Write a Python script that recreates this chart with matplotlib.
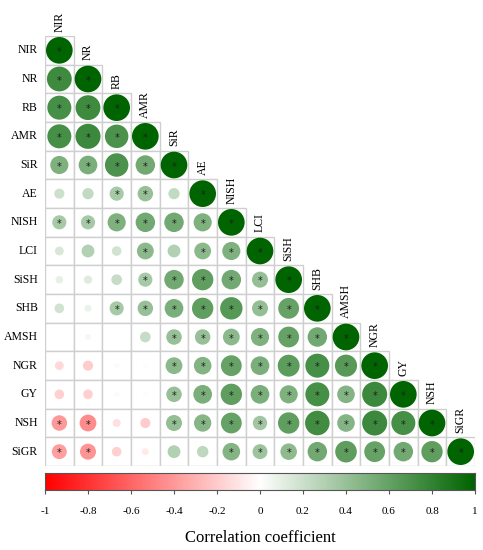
import numpy as np
import matplotlib
matplotlib.use("Agg")
from matplotlib import pyplot as plt
from matplotlib.colors import LinearSegmentedColormap
from matplotlib.patches import Circle, Rectangle

### data ###

names = ["NIR", "NR", "RB", "AMR", "SiR", "AE", "NISH", "LCI", "SiSH", "SHB", "AMSH", "NGR", "GY", "NSH", "SiGR"]

# lower triangle, one list per row (diagonal = 1 left out)
r_NR = [0.75]
r_RB = [0.72, 0.75]
r_AMR = [0.72, 0.76, 0.70]
r_SiR = [0.50, 0.52, 0.70, 0.55]
r_AE = [0.20, 0.24, 0.35, 0.40, 0.24]
r_NISH = [0.35, 0.35, 0.50, 0.55, 0.55, 0.50]
r_LCI = [0.15, 0.30, 0.18, 0.45, 0.30, 0.45, 0.50]
r_SiSH = [0.10, 0.13, 0.22, 0.35, 0.55, 0.62, 0.55, 0.42]
r_SHB = [0.18, 0.08, 0.35, 0.40, 0.52, 0.62, 0.66, 0.42, 0.60]
r_AMSH = [0.00, 0.04, 0.00, 0.22, 0.40, 0.40, 0.45, 0.50, 0.60, 0.55]
r_NGR = [-0.15, -0.20, 0.02, 0.01, 0.45, 0.48, 0.60, 0.52, 0.64, 0.72, 0.65]
r_GY = [-0.18, -0.18, 0.02, 0.01, 0.40, 0.52, 0.62, 0.52, 0.50, 0.72, 0.48, 0.76]
r_NSH = [-0.40, -0.45, -0.12, -0.20, 0.42, 0.47, 0.60, 0.36, 0.62, 0.74, 0.48, 0.76, 0.72]
r_SiGR = [-0.38, -0.42, -0.18, -0.08, 0.30, 0.25, 0.48, 0.38, 0.44, 0.55, 0.63, 0.60, 0.55, 0.62]

rows = [[], r_NR, r_RB, r_AMR, r_SiR, r_AE, r_NISH, r_LCI, r_SiSH, r_SHB,
        r_AMSH, r_NGR, r_GY, r_NSH, r_SiGR]

# pairs without the significance star
ns_pairs = [("AE", "NIR"), ("AE", "NR"), ("AE", "SiR"),
            ("LCI", "NIR"), ("LCI", "NR"), ("LCI", "RB"), ("LCI", "SiR"),
            ("SiSH", "NIR"), ("SiSH", "NR"), ("SiSH", "RB"),
            ("SHB", "NIR"), ("SHB", "NR"),
            ("AMSH", "NIR"), ("AMSH", "NR"), ("AMSH", "RB"), ("AMSH", "AMR"),
            ("NGR", "NIR"), ("NGR", "NR"), ("NGR", "RB"), ("NGR", "AMR"),
            ("GY", "NIR"), ("GY", "NR"), ("GY", "RB"), ("GY", "AMR"),
            ("NSH", "RB"), ("NSH", "AMR"),
            ("SiGR", "RB"), ("SiGR", "AMR"), ("SiGR", "SiR"), ("SiGR", "AE")]

cbar_ticks = [-1, -0.8, -0.6, -0.4, -0.2, 0, 0.2, 0.4, 0.6, 0.8, 1]

### plot ###

plt.rcParams["font.family"] = ["Liberation Serif", "DejaVu Serif"]
cmap = LinearSegmentedColormap.from_list("rwg", ["#FF0000", "#FFFFFF", "#006400"])


def circle_radius(r):
    # size scale: grows linearly with |r|, full cell at the top
    return 0.465 * min(1.0, abs(r) + 0.18)


n = len(names)
fig = plt.figure(figsize=(4.83, 5.5), dpi=100)
ax = fig.add_axes([45 / 483, 1 - 466 / 550, 430 / 483, 430 / 550])
ax.set_xlim(0, n)
ax.set_ylim(n, 0)
ax.axis("off")

for i in range(n):
    vals = rows[i] + [1.0]
    for j in range(i + 1):
        r = vals[j]
        ax.add_patch(Rectangle((j, i), 1, 1, facecolor="white", edgecolor="#cfcfcf", lw=1.0, zorder=1))
        if abs(r) > 0.001:
            ax.add_patch(Circle((j + 0.5, i + 0.5), circle_radius(r), facecolor=cmap((r + 1) / 2),
                                edgecolor="none", zorder=2))
        if (names[i], names[j]) not in ns_pairs:
            ax.text(j + 0.5, i + 0.56, "*", ha="center", va="center", fontsize=7,
                    color="#1e1e1e", zorder=3, family="DejaVu Sans")
    ax.text(-0.25, i + 0.5, names[i], ha="right", va="center", fontsize=8.5, clip_on=False)
    ax.text(i + 0.5, i - 0.15, names[i], ha="center", va="bottom", rotation=90,
            fontsize=8.5, clip_on=False)

# colour bar
cax = fig.add_axes([45 / 483, 1 - 490 / 550, 430 / 483, 17 / 550])
grad = np.linspace(-1, 1, 512).reshape(1, -1)
cax.imshow(grad, aspect="auto", cmap=cmap, extent=[-1, 1, 0, 1], vmin=-1, vmax=1)
cax.set_yticks([])
cax.set_xticks(cbar_ticks)
cax.set_xticklabels(["{:g}".format(t) for t in cbar_ticks], fontsize=8)
cax.tick_params(axis="x", length=3, width=0.8, color="#555555", pad=9)
for s in cax.spines.values():
    s.set_color("#555555")
    s.set_linewidth(0.8)
cax.set_xlabel("Correlation coefficient", fontsize=12, labelpad=10)

fig.savefig("out.png", dpi=100)
